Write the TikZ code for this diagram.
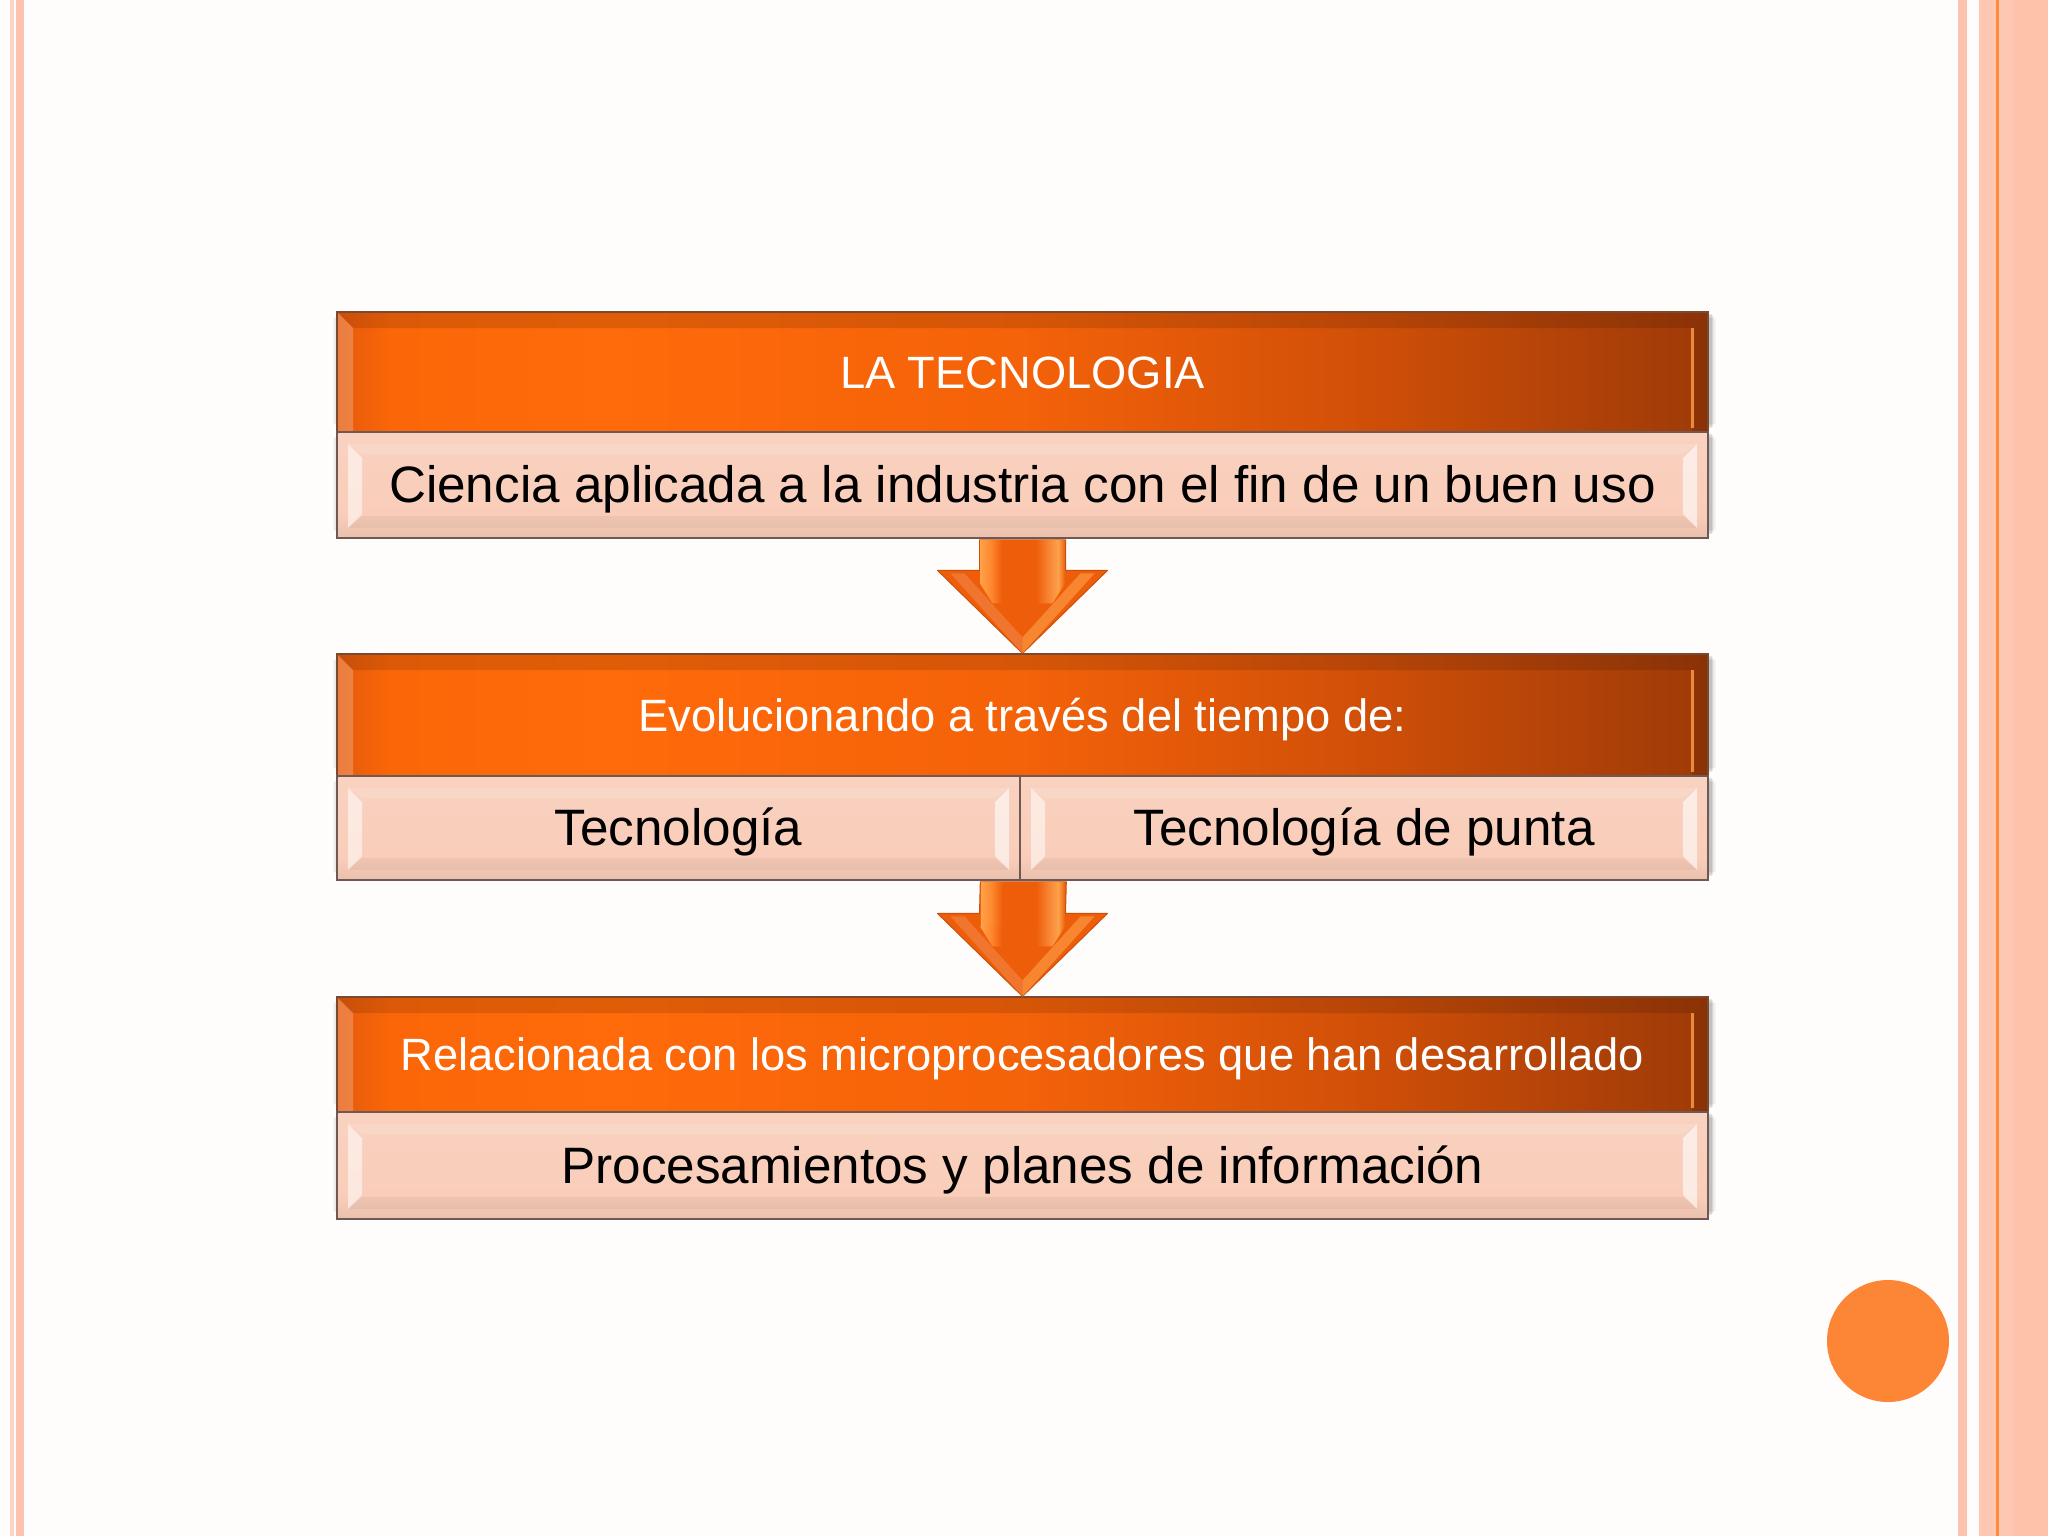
\documentclass[tikz,border=0pt]{standalone}
\usepackage{fontspec}
\setmainfont{Liberation Sans}
\usetikzlibrary{calc}
\definecolor{pagebg}{HTML}{FFFDFC}
\definecolor{stripeA}{HTML}{FDD3C3}
\definecolor{stripeB}{HTML}{FCC4AE}
\definecolor{stripeC}{HTML}{FDC7B2}
\definecolor{stripeD}{HTML}{FEC2AA}
\definecolor{stripeLine}{HTML}{FF8A40}
\definecolor{dotcol}{HTML}{FD8536}
\definecolor{hA}{HTML}{E45A0C}
\definecolor{hB}{HTML}{FB6608}
\definecolor{hC}{HTML}{FF6A0A}
\definecolor{hD}{HTML}{F46209}
\definecolor{hE}{HTML}{D25008}
\definecolor{hF}{HTML}{9E3A08}
\definecolor{hdrline}{HTML}{7A4A30}
\definecolor{subfill}{HTML}{F9CDB9}
\definecolor{subline}{HTML}{6E5A52}
\definecolor{arrfill}{HTML}{EE5E0A}
\definecolor{arrlight}{HTML}{FFA24A}
\definecolor{arrdark}{HTML}{C8500A}
\definecolor{shA}{HTML}{FF8A30}
\definecolor{shB}{HTML}{F88838}
\definecolor{shC}{HTML}{E86010}
\pgfdeclarehorizontalshading{hdrshade}{100bp}{color(0bp)=(hA); color(25bp)=(hA); color(27bp)=(hB); color(35bp)=(hC); color(50bp)=(hD); color(62bp)=(hE); color(75bp)=(hF); color(100bp)=(hF)}
\pgfdeclareverticalshading{subshade}{100bp}{color(0bp)=(subfill!94!black); color(25bp)=(subfill!94!black); color(36bp)=(subfill); color(75bp)=(subfill!90!white); color(100bp)=(subfill!90!white)}
\pgfdeclarehorizontalshading{shaftshade}{100bp}{color(0bp)=(arrlight); color(25bp)=(arrlight); color(31bp)=(shA); color(38bp)=(arrfill); color(58bp)=(arrfill); color(66bp)=(shB); color(71bp)=(arrlight); color(75bp)=(shC); color(100bp)=(shC)}
\pgfdeclarelayer{bg}
\pgfdeclarelayer{shadow}
\pgfsetlayers{bg,shadow,main}
\newcommand\bevelhdrpp{%
  \coordinate (pnw) at (path picture bounding box.north west);
  \coordinate (pne) at (path picture bounding box.north east);
  \coordinate (psw) at (path picture bounding box.south west);
  \coordinate (pse) at (path picture bounding box.south east);
  \fill[white, opacity=0.22] (pnw) -- ($(pnw)+(16,16)$) -- ($(psw)+(16,0)$) -- (psw) -- cycle;
  \fill[black, opacity=0.12] (pnw) -- (pne) -- ($(pne)+(-16,16)$) -- ($(pnw)+(16,16)$) -- cycle;
  \fill[black, opacity=0.12] (pne) -- ($(pne)+(-16,16)$) -- ($(pse)+(-16,0)$) -- (pse) -- cycle;
  \draw[arrlight, line width=3pt, opacity=0.8] ($(pne)+(-16,16)$) -- ($(pse)+(-16,-4)$);
}
\newcommand\bevelsubpp{%
  \coordinate (pnw) at (path picture bounding box.north west);
  \coordinate (pne) at (path picture bounding box.north east);
  \coordinate (psw) at (path picture bounding box.south west);
  \coordinate (pse) at (path picture bounding box.south east);
  \fill[white, opacity=0.55] ($(pnw)+(11,12)$) -- ($(pnw)+(25,26)$) -- ($(psw)+(25,-24)$) -- ($(psw)+(11,-10)$) -- cycle;
  \fill[white, opacity=0.6] ($(pne)+(-11,12)$) -- ($(pne)+(-25,26)$) -- ($(pse)+(-25,-24)$) -- ($(pse)+(-11,-10)$) -- cycle;
  \fill[white, opacity=0.15] ($(pnw)+(11,12)$) -- ($(pne)+(-11,12)$) -- ($(pne)+(-25,22)$) -- ($(pnw)+(25,22)$) -- cycle;
  \fill[black, opacity=0.04] ($(psw)+(11,-10)$) -- ($(pse)+(-11,-10)$) -- ($(pse)+(-25,-22)$) -- ($(psw)+(25,-22)$) -- cycle;
}
\tikzset{
  hdr/.style={rectangle, inner sep=0pt, minimum width=1371pt, shade, shading=hdrshade,
    draw=hdrline, line width=1.2pt, text=white, font=\fontsize{45.3}{52}\selectfont,
    text height=34pt, text depth=2pt, path picture={\bevelhdrpp}},
  subbox/.style={rectangle, inner sep=0pt, shade, shading=subshade,
    draw=subline, line width=1.6pt, text=black, font=\fontsize{51.2}{58}\selectfont,
    text height=37pt, text depth=2pt, path picture={\bevelsubpp}},
}
\newcommand\shadowof[1]{%
  \begin{pgfonlayer}{shadow}
  \foreach \k/\o in {10/0.04,7/0.05,4/0.07,2/0.09} {
    \fill[black, opacity=\o] ($(#1.north west)+(-\k/2+2,\k/2+2)$) rectangle ($(#1.south east)+(\k/2+2,-\k/2-4)$);
  }
  \end{pgfonlayer}
}
\newcommand\blockarrow[2]{%
  \fill[arrfill, draw=arrdark, line width=1pt, line join=round]
    ($(#1)+(-43,0)$) -- ($(#1)+(43,0)$) -- ($(#2)+(43,-83)$) -- ($(#2)+(85,-83)$) -- (#2)
    -- ($(#2)+(-85,-83)$) -- ($(#2)+(-43,-83)$) -- cycle;
  \shade[shading=shaftshade] ($(#1)+(-42.5,0.5)$) rectangle ($(#2)+(42.5,-70)$);
  \shade[shading=shaftshade] ($(#2)+(-42.5,-70)$) -- ($(#2)+(42.5,-70)$) -- ($(#2)+(30,-50)$) -- ($(#2)+(-30,-50)$) -- cycle;
  \fill[white, opacity=0.15] ($(#2)+(-72,-80)$) -- ($(#2)+(-58,-80)$) -- ($(#2)+(0,-16)$) -- (#2) -- cycle;
  \fill[arrlight, opacity=0.6] ($(#2)+(72,-80)$) -- ($(#2)+(58,-80)$) -- ($(#2)+(0,-16)$) -- (#2) -- cycle;
}
\begin{document}
\begin{tikzpicture}[x=1pt, y=-1pt]
\useasboundingbox (0,0) rectangle (2048,1536);
\begin{pgfonlayer}{bg}
\fill[pagebg] (0,0) rectangle (2048,1536);
\fill[stripeA] (10,0) rectangle (14,1536);
\fill[stripeB] (16,0) rectangle (24,1536);
\fill[stripeB] (1958,0) rectangle (1967,1536);
\fill[stripeC] (1979,0) rectangle (2013,1536);
\fill[stripeD] (2013,0) rectangle (2048,1536);
\fill[stripeLine] (1996,0) rectangle (1998.5,1536);
\fill[dotcol] (1888,1341) circle (61);
\end{pgfonlayer}

% box 1
\node[hdr, minimum height=120pt] (h1) at (1022.5,372) {LA TECNOLOGIA};
\node[subbox, minimum width=1371pt, minimum height=106pt] (s1) at (1022.5,485) {Ciencia aplicada a la industria con el fin de un buen uso};
% box 2
\node[hdr, minimum height=122pt] (h2) at (1022.5,715) {Evolucionando a través del tiempo de:};
\node[subbox, minimum width=683pt, minimum height=104pt] (s2a) at (678.5,828) {Tecnología};
\node[subbox, minimum width=688pt, minimum height=104pt] (s2b) at (1364,828) {Tecnología de punta};
% box 3
\node[hdr, minimum height=115pt] (h3) at (1022.5,1054.5) {Relacionada con los microprocesadores que han desarrollado};
\node[subbox, minimum width=1371pt, minimum height=107pt] (s3) at (1022.5,1165.5) {Procesamientos y planes de información};

\shadowof{s1}\shadowof{s2a}\shadowof{s2b}\shadowof{s3}
\shadowof{h1}\shadowof{h2}\shadowof{h3}

% block arrows
\coordinate (a1s) at ($(s1.south)+(0,1)$);
\blockarrow{a1s}{h2.north}
\coordinate (a2s) at ($(s2a.south east)+(2.5,1)$);
\blockarrow{a2s}{h3.north}
\end{tikzpicture}
\end{document}
